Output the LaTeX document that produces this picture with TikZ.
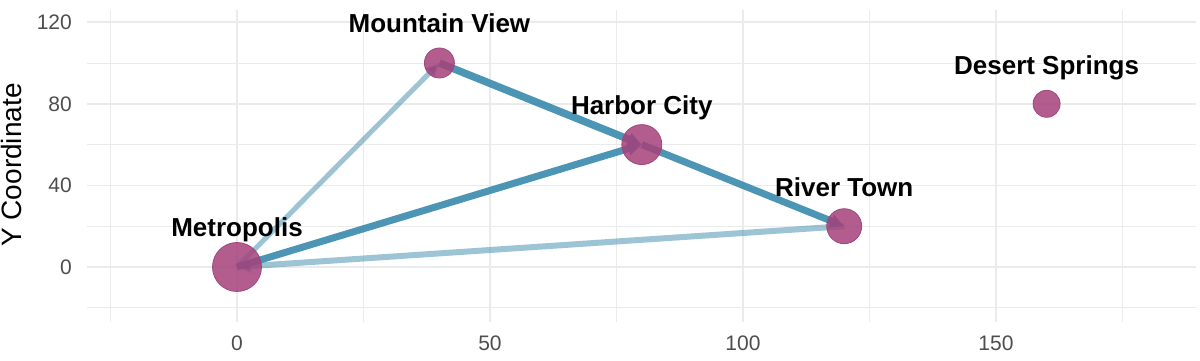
\documentclass[tikz,border=0pt]{standalone}
\usepackage{fontspec}
\setmainfont{Liberation Sans}
\usetikzlibrary{arrows.meta}
\definecolor{gridc}{RGB}{235,235,235}
\definecolor{tickc}{RGB}{77,77,77}
\definecolor{edgec}{RGB}{58,138,172}
\definecolor{ptfill}{RGB}{165,65,122}
\definecolor{ptdraw}{RGB}{160,70,125}
\tikzset{
  major/.style={draw=gridc, line width=1.6pt},
  minor/.style={draw=gridc, line width=0.9pt},
  ticklab/.style={text=tickc, font=\fontsize{21}{24}\selectfont, inner sep=0pt},
  citylab/.style={font=\fontsize{26}{30}\selectfont\bfseries, anchor=base, inner sep=0pt},
  edgedark/.style={draw=edgec, draw opacity=0.9, -{Triangle[length=14pt,width=13pt]}},
  edgelight/.style={draw=edgec, draw opacity=0.5, -{Triangle[length=14pt,width=13pt]}},
  city/.style={circle, fill=ptfill, fill opacity=0.85, draw=ptdraw, line width=0.8pt, inner sep=0pt}
}
\begin{document}
\begin{tikzpicture}[x=5.06pt, y=2.04pt]
\useasboundingbox (-237pt,-94pt) rectangle (963pt,267pt);
% grid
\foreach \gx in {-25,25,75,125,175} \draw[minor] (\gx,-27) -- (\gx,126);
\foreach \gy in {-20,20,60,100} \draw[minor] (-29.6,\gy) -- (189.5,\gy);
\foreach \gx in {0,50,100,150} \draw[major] (\gx,-27) -- (\gx,126);
\foreach \gy in {0,40,80,120} \draw[major] (-29.6,\gy) -- (189.5,\gy);
% tick labels
\foreach \gy in {0,40,80,120} \node[ticklab, anchor=east] (yl\gy) at ([xshift=-165pt]0,\gy) {\gy};
\foreach \gx in {0,50,100,150} \node[ticklab] (xl\gx) at ([yshift=-76pt]\gx,0) {\gx};
\node[rotate=90, font=\fontsize{28}{32}\selectfont, text=black, inner sep=0pt] (ylab) at (-225.5pt,102pt) {Y Coordinate};
% positions
\coordinate (m) at (0,0);
\coordinate (mv) at (40,100);
\coordinate (h) at (80,60);
\coordinate (r) at (120,20);
\coordinate (d) at (160,80);
% edges
\draw[edgelight, line width=5pt] (m) -- (mv);
\draw[edgelight, line width=6pt] (r) -- (m);
\draw[edgedark, line width=7pt] (m) -- (h);
\draw[edgedark, line width=7.5pt] (mv) -- (h);
\draw[edgedark, line width=7pt] (h) -- (r);
% points
\node[city, minimum size=49pt] (nm) at (m) {};
\node[city, minimum size=30pt] (nmv) at (mv) {};
\node[city, minimum size=40pt] (nh) at (h) {};
\node[city, minimum size=35pt] (nr) at (r) {};
\node[city, minimum size=27pt] (nd) at (d) {};
% labels
\node[citylab] (lm) at ([yshift=30pt]m) {Metropolis};
\node[citylab] (lmv) at ([yshift=30pt]mv) {Mountain View};
\node[citylab] (lh) at ([yshift=30pt]h) {Harbor City};
\node[citylab] (lr) at ([yshift=30pt]r) {River Town};
\node[citylab] (ld) at ([yshift=29pt]d) {Desert Springs};
\end{tikzpicture}
\end{document}
